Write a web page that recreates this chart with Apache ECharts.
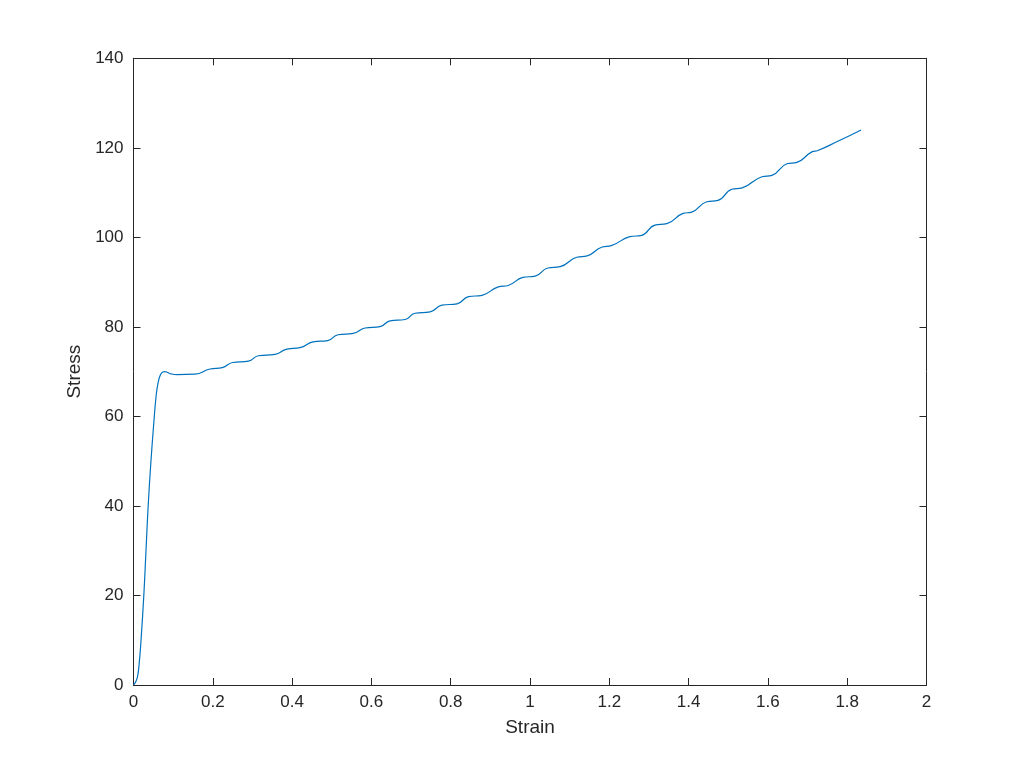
<!DOCTYPE html>
<html>
<head>
<meta charset="utf-8">
<script src="https://cdn.jsdelivr.net/npm/echarts@6/dist/echarts.min.js"></script>
<style>
html,body{margin:0;padding:0;background:#fff;}
#chart{width:1024px;height:768px;}
</style>
</head>
<body>
<div id="chart"></div>
<script>
// Strain values (x)
var strain = [
  0, 0.005, 0.010, 0.014, 0.019, 0.026, 0.0315, 0.037, 0.044, 0.0525, 0.057, 0.062, 0.068, 0.074, 0.079, 0.086, 0.095,
  0.110, 0.155,
  0.193, 0.224,
  0.250, 0.290,
  0.315, 0.357,
  0.387, 0.420,
  0.453, 0.490,
  0.516, 0.554,
  0.584, 0.622,
  0.647, 0.685,
  0.710, 0.748,
  0.778, 0.816,
  0.845, 0.879,
  0.920, 0.945,
  0.982, 1.013,
  1.045, 1.076,
  1.118, 1.144,
  1.182, 1.205,
  1.252, 1.282,
  1.315, 1.345,
  1.386, 1.408,
  1.446, 1.474,
  1.509, 1.535,
  1.585, 1.610,
  1.648, 1.673,
  1.711, 1.726,
  1.775, 1.835
];
// Stress values (y)
var stress = [
  0, 0.6, 1.8, 4.5, 10, 20, 30, 40, 50, 60, 64.5, 67.5, 69.3, 69.9, 70.0, 69.8, 69.5,
  69.35, 69.45,
  70.6, 70.9,
  72.05, 72.35,
  73.55, 73.85,
  75.05, 75.35,
  76.65, 76.95,
  78.25, 78.55,
  79.75, 80.05,
  81.35, 81.65,
  83.05, 83.35,
  84.85, 85.15,
  86.75, 87.05,
  88.95, 89.25,
  91.05, 91.35,
  93.15, 93.45,
  95.55, 95.85,
  97.85, 98.15,
  100.15, 100.45,
  102.75, 103.05,
  105.35, 105.65,
  107.95, 108.25,
  110.75, 111.05,
  113.55, 113.85,
  116.45, 116.75,
  119.1, 119.4,
  121.4, 124.0
];
var xTickInterval = 0.2;
var yTickInterval = 20;

var data = strain.map(function (s, i) { return [s, stress[i]]; });

var chart = echarts.init(document.getElementById('chart'));
var font = 'Helvetica, "Liberation Sans", Arial, sans-serif';
var axisColor = '#262626';
var tickLen = 7;

function baseAxis(extra) {
  var a = {
    axisLine: { show: true, onZero: false, lineStyle: { color: axisColor, width: 1 } },
    axisTick: { show: true, inside: true, length: tickLen, lineStyle: { color: axisColor, width: 1 } },
    splitLine: { show: false }
  };
  for (var k in extra) a[k] = extra[k];
  return a;
}

chart.setOption({
  backgroundColor: '#ffffff',
  animation: false,
  grid: { left: 133.5, right: 97.5, top: 58.3, bottom: 83, containLabel: false },
  xAxis: [
    baseAxis({
      type: 'value', position: 'bottom', min: 0, max: 2, interval: xTickInterval,
      name: 'Strain', nameLocation: 'middle', nameGap: 33,
      nameTextStyle: { fontFamily: font, fontSize: 19, color: axisColor },
      axisLabel: { fontFamily: font, fontSize: 17, color: axisColor, margin: 9 }
    }),
    baseAxis({
      type: 'value', position: 'top', min: 0, max: 2, interval: xTickInterval,
      axisLabel: { show: false }
    })
  ],
  yAxis: [
    baseAxis({
      type: 'value', position: 'left', min: 0, max: 140, interval: yTickInterval,
      name: 'Stress', nameLocation: 'middle', nameGap: 46,
      nameTextStyle: { fontFamily: font, fontSize: 19, color: axisColor },
      axisLabel: { fontFamily: font, fontSize: 17, color: axisColor, margin: 10 }
    }),
    baseAxis({
      type: 'value', position: 'right', min: 0, max: 140, interval: yTickInterval,
      axisLabel: { show: false }
    })
  ],
  series: [{
    type: 'line',
    xAxisIndex: 0,
    yAxisIndex: 0,
    data: data,
    showSymbol: false,
    smooth: 0.5,
    lineStyle: { color: '#0072BD', width: 1.2 },
    clip: true
  }]
});
</script>
</body>
</html>
